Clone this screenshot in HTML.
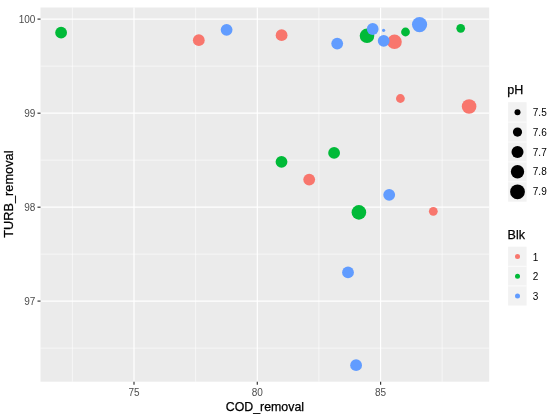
<!DOCTYPE html>
<html><head><meta charset="utf-8"><title>plot</title>
<style>html,body{margin:0;padding:0;background:#fff}svg{display:block}text{font-family:"Liberation Sans",Arial,sans-serif}</style></head><body>
<svg width="550" height="419" viewBox="0 0 550 419">
<rect width="550" height="419" fill="#fff"/>
<rect x="40.5" y="7.5" width="448.7" height="374.2" fill="#EBEBEB"/>
<g stroke="#fff" stroke-width="0.6" opacity="0.95">
<line x1="72.4" x2="72.4" y1="7.5" y2="381.7"/>
<line x1="195.6" x2="195.6" y1="7.5" y2="381.7"/>
<line x1="318.9" x2="318.9" y1="7.5" y2="381.7"/>
<line x1="442.2" x2="442.2" y1="7.5" y2="381.7"/>
<line y1="66.2" y2="66.2" x1="40.5" x2="489.2"/>
<line y1="160.2" y2="160.2" x1="40.5" x2="489.2"/>
<line y1="254.2" y2="254.2" x1="40.5" x2="489.2"/>
<line y1="348.1" y2="348.1" x1="40.5" x2="489.2"/>
</g>
<g stroke="#fff" stroke-width="1.17">
<line x1="134.0" x2="134.0" y1="7.5" y2="381.7"/>
<line x1="257.3" x2="257.3" y1="7.5" y2="381.7"/>
<line x1="380.6" x2="380.6" y1="7.5" y2="381.7"/>
<line y1="19.1" y2="19.1" x1="40.5" x2="489.2"/>
<line y1="113.2" y2="113.2" x1="40.5" x2="489.2"/>
<line y1="207.2" y2="207.2" x1="40.5" x2="489.2"/>
<line y1="301.1" y2="301.1" x1="40.5" x2="489.2"/>
</g>
<g>
<circle cx="61.1" cy="32.7" r="5.9" fill="#00BA38"/>
<circle cx="198.8" cy="40.2" r="5.9" fill="#F8766D"/>
<circle cx="226.6" cy="29.8" r="5.9" fill="#619CFF"/>
<circle cx="281.6" cy="35.2" r="5.9" fill="#F8766D"/>
<circle cx="337.2" cy="43.6" r="5.9" fill="#619CFF"/>
<circle cx="367.0" cy="35.8" r="7.3" fill="#00BA38"/>
<circle cx="372.7" cy="29.0" r="5.9" fill="#619CFF"/>
<circle cx="383.6" cy="30.3" r="1.6" fill="#619CFF"/>
<circle cx="394.5" cy="41.8" r="7.3" fill="#F8766D"/>
<circle cx="383.7" cy="40.8" r="5.9" fill="#619CFF"/>
<circle cx="405.5" cy="32.0" r="4.4" fill="#00BA38"/>
<circle cx="419.55" cy="24.55" r="7.6" fill="#619CFF"/>
<circle cx="460.7" cy="28.35" r="4.35" fill="#00BA38"/>
<circle cx="400.4" cy="98.5" r="4.4" fill="#F8766D"/>
<circle cx="469.1" cy="106.5" r="7.3" fill="#F8766D"/>
<circle cx="281.5" cy="161.8" r="5.9" fill="#00BA38"/>
<circle cx="334.1" cy="152.9" r="5.9" fill="#00BA38"/>
<circle cx="309.2" cy="179.6" r="5.9" fill="#F8766D"/>
<circle cx="389.2" cy="194.8" r="5.9" fill="#619CFF"/>
<circle cx="358.9" cy="212.4" r="7.3" fill="#00BA38"/>
<circle cx="433.3" cy="211.3" r="4.4" fill="#F8766D"/>
<circle cx="348.0" cy="272.4" r="5.9" fill="#619CFF"/>
<circle cx="356.1" cy="365.2" r="5.9" fill="#619CFF"/>
</g>
<g stroke="#333" stroke-width="1.17">
<line x1="134.0" x2="134.0" y1="381.7" y2="384.7"/>
<line x1="257.3" x2="257.3" y1="381.7" y2="384.7"/>
<line x1="380.6" x2="380.6" y1="381.7" y2="384.7"/>
<line y1="19.1" y2="19.1" x1="37.5" x2="40.5"/>
<line y1="113.2" y2="113.2" x1="37.5" x2="40.5"/>
<line y1="207.2" y2="207.2" x1="37.5" x2="40.5"/>
<line y1="301.1" y2="301.1" x1="37.5" x2="40.5"/>
</g>
<g fill="#4D4D4D" font-size="10">
<text x="134.0" y="395.7" text-anchor="middle">75</text>
<text x="257.3" y="395.7" text-anchor="middle">80</text>
<text x="380.6" y="395.7" text-anchor="middle">85</text>
<text x="35.4" y="23.3" text-anchor="end">100</text>
<text x="35.4" y="117.4" text-anchor="end">99</text>
<text x="35.4" y="211.3" text-anchor="end">98</text>
<text x="35.4" y="305.3" text-anchor="end">97</text>
</g>
<g fill="#000" font-size="12.5" stroke="#000" stroke-width="0.25">
<text x="264.9" y="411" text-anchor="middle" font-size="12.35">COD_removal</text>
<text transform="translate(13.0,194.1) rotate(-90)" text-anchor="middle" font-size="12.75">TURB_removal</text>
<text x="507.3" y="94.3">pH</text>
<text x="507.6" y="238.5">Blk</text>
</g>
<rect x="508.1" y="102.2" width="18.5" height="99.5" fill="#F2F2F2"/>
<g stroke="#fff" stroke-width="0.8">
<line x1="508.1" x2="526.6" y1="122.1" y2="122.1"/>
<line x1="508.1" x2="526.6" y1="142.0" y2="142.0"/>
<line x1="508.1" x2="526.6" y1="161.9" y2="161.9"/>
<line x1="508.1" x2="526.6" y1="181.8" y2="181.8"/>
</g>
<circle cx="517.5" cy="112.2" r="3.0" fill="#000"/>
<text x="532.8" y="115.8" font-size="10" fill="#000">7.5</text>
<circle cx="517.5" cy="132.1" r="4.6" fill="#000"/>
<text x="532.8" y="135.7" font-size="10" fill="#000">7.6</text>
<circle cx="517.5" cy="151.9" r="6.0" fill="#000"/>
<text x="532.8" y="155.5" font-size="10" fill="#000">7.7</text>
<circle cx="517.5" cy="171.8" r="6.7" fill="#000"/>
<text x="532.8" y="175.4" font-size="10" fill="#000">7.8</text>
<circle cx="517.5" cy="191.8" r="7.4" fill="#000"/>
<text x="532.8" y="195.3" font-size="10" fill="#000">7.9</text>
<rect x="508.1" y="246.7" width="18.5" height="58.8" fill="#F2F2F2"/>
<g stroke="#fff" stroke-width="0.8">
<line x1="508.1" x2="526.6" y1="266.3" y2="266.3"/>
<line x1="508.1" x2="526.6" y1="285.9" y2="285.9"/>
</g>
<circle cx="517.5" cy="256.5" r="2.5" fill="#F8766D"/>
<text x="532.8" y="260.7" font-size="10" fill="#000">1</text>
<circle cx="517.5" cy="276.2" r="2.5" fill="#00BA38"/>
<text x="532.8" y="280.3" font-size="10" fill="#000">2</text>
<circle cx="517.5" cy="295.9" r="2.5" fill="#619CFF"/>
<text x="532.8" y="299.9" font-size="10" fill="#000">3</text>
</svg></body></html>
